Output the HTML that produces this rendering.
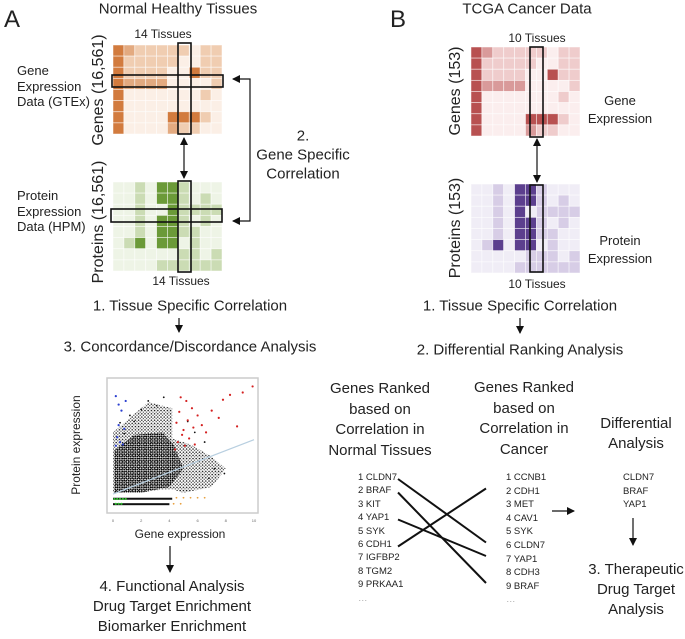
<!DOCTYPE html>
<html><head><meta charset="utf-8">
<style>
body{margin:0;background:#fff;}
#root{position:relative;width:685px;height:639px;overflow:hidden;font-family:"Liberation Sans",sans-serif;color:#222;}
.t{position:absolute;white-space:nowrap;transform:translate(-50%,-50%);line-height:1;}
.l{position:absolute;white-space:nowrap;line-height:1;}
</style></head><body>
<div id="root">
<svg id="svg" width="685" height="639" style="position:absolute;left:0;top:0">
<defs>
<marker id="ah" markerWidth="8" markerHeight="8" refX="7" refY="4" orient="auto-start-reverse" markerUnits="userSpaceOnUse"><path d="M0,0 L8,4 L0,8 z" fill="#111"/></marker>
<pattern id="dotsLight" width="3.2" height="3.2" patternUnits="userSpaceOnUse"><circle cx="1" cy="1" r="0.75" fill="#111"/><circle cx="2.6" cy="2.5" r="0.6" fill="#222"/></pattern>
<pattern id="dotsDense" width="2.2" height="2.2" patternUnits="userSpaceOnUse"><circle cx="1" cy="1" r="0.85" fill="#000"/></pattern>
</defs>
</svg>

<div class="l" style="left:4px;top:8px;font-size:24px">A</div>
<div class="l" style="left:390px;top:8px;font-size:24px">B</div>
<div class="t" style="left:178px;top:9px;font-size:15px">Normal Healthy Tissues</div>
<div class="t" style="left:527px;top:9px;font-size:15px">TCGA Cancer Data</div>

<div class="t" style="left:163px;top:34px;font-size:12px">14 Tissues</div>
<div class="t" style="left:181px;top:281px;font-size:12px">14 Tissues</div>
<div class="t" style="left:537px;top:38px;font-size:12px">10 Tissues</div>
<div class="t" style="left:537px;top:284px;font-size:12px">10 Tissues</div>

<div class="l" style="left:17px;top:63px;font-size:13px;line-height:15.5px;white-space:normal;width:80px">Gene<br>Expression<br>Data (GTEx)</div>
<div class="l" style="left:17px;top:188px;font-size:13px;line-height:15.5px;white-space:normal;width:80px">Protein<br>Expression<br>Data (HPM)</div>
<div class="t" style="left:99px;top:90px;font-size:16px;transform:translate(-50%,-50%) rotate(-90deg)">Genes (16,561)</div>
<div class="t" style="left:99px;top:222px;font-size:16px;transform:translate(-50%,-50%) rotate(-90deg)">Proteins (16,561)</div>
<div class="t" style="left:456px;top:91px;font-size:16px;transform:translate(-50%,-50%) rotate(-90deg)">Genes (153)</div>
<div class="t" style="left:456px;top:228px;font-size:16px;transform:translate(-50%,-50%) rotate(-90deg)">Proteins (153)</div>

<div class="t" style="left:303px;top:155px;font-size:15px;line-height:19px;text-align:center">2.<br>Gene Specific<br>Correlation</div>
<div class="t" style="left:620px;top:110px;font-size:13px;line-height:18px;text-align:center">Gene<br>Expression</div>
<div class="t" style="left:620px;top:250px;font-size:13px;line-height:18px;text-align:center">Protein<br>Expression</div>

<div class="t" style="left:190px;top:306px;font-size:15px">1. Tissue Specific Correlation</div>
<div class="t" style="left:190px;top:347px;font-size:15px">3. Concordance/Discordance Analysis</div>
<div class="t" style="left:520px;top:306px;font-size:15px">1. Tissue Specific Correlation</div>
<div class="t" style="left:520px;top:350px;font-size:15px">2. Differential Ranking Analysis</div>

<div class="t" style="left:380px;top:420px;font-size:15px;line-height:20.5px;text-align:center">Genes Ranked<br>based on<br>Correlation in<br>Normal Tissues</div>
<div class="t" style="left:524px;top:419px;font-size:15px;line-height:20.5px;text-align:center">Genes Ranked<br>based on<br>Correlation in<br>Cancer</div>
<div class="t" style="left:636px;top:434px;font-size:15px;line-height:20px;text-align:center">Differential<br>Analysis</div>

<div class="l" style="left:358px;top:471px;font-size:9.5px;line-height:13.4px">1 CLDN7<br>2 BRAF<br>3 KIT<br>4 YAP1<br>5 SYK<br>6 CDH1<br>7 IGFBP2<br>8 TGM2<br>9 PRKAA1<br><span style="color:#aaa">…</span></div>
<div class="l" style="left:506px;top:471px;font-size:9.5px;line-height:13.6px">1 CCNB1<br>2 CDH1<br>3 MET<br>4 CAV1<br>5 SYK<br>6 CLDN7<br>7 YAP1<br>8 CDH3<br>9 BRAF<br><span style="color:#aaa">…</span></div>
<div class="l" style="left:623px;top:471px;font-size:9.5px;line-height:13.6px">CLDN7<br>BRAF<br>YAP1</div>
<div class="t" style="left:636px;top:590px;font-size:15px;line-height:20px;text-align:center">3. Therapeutic<br>Drug Target<br>Analysis</div>

<div class="t" style="left:76px;top:445px;font-size:12px;transform:translate(-50%,-50%) rotate(-90deg)">Protein expression</div>
<div class="t" style="left:180px;top:534px;font-size:12px">Gene expression</div>
<div class="t" style="left:172px;top:607px;font-size:15px;line-height:20px;text-align:center">4. Functional Analysis<br>Drug Target Enrichment<br>Biomarker Enrichment</div>
</div>
<script>
const NS='http://www.w3.org/2000/svg';
const svg=document.getElementById('svg');
function mk(tag,a){const e=document.createElementNS(NS,tag);for(const k in a)e.setAttribute(k,a[k]);svg.appendChild(e);return e;}

// heatmap intensities (0-3), rows x 10 columns
const geneA=[[3,2,1,1,1,1,1,0,1,1],[3,1,1,1,1,1,0,0,1,1],[3,1,1,1,1,0,0,3,1,1],[3,2,2,2,2,0,0,0,0,1],[3,0,0,0,0,0,0,0,1,0],[3,0,0,0,0,0,0,0,0,0],[3,0,0,0,0,3,3,3,1,0],[3,0,0,0,0,2,1,1,0,0]];
const protA=[[0,0,1,0,3,3,1,0,0,0],[0,0,1,0,3,3,1,0,1,0],[0,0,1,0,0,3,1,1,1,1],[0,0,1,0,3,3,1,0,1,0],[0,0,1,0,3,3,1,1,0,0],[0,1,3,0,3,3,0,1,0,0],[0,0,0,0,0,0,1,1,0,1],[0,0,0,0,1,1,1,1,1,1]];
const geneB=[[3,2,1,1,1,1,1,0,1,1],[3,1,1,1,1,1,0,0,1,1],[3,1,1,1,1,0,0,3,1,1],[3,2,2,2,2,0,0,0,0,1],[3,0,0,0,0,0,0,0,1,0],[3,0,0,0,0,0,0,0,0,0],[3,0,0,0,0,3,3,3,1,0],[3,0,0,0,0,2,1,1,0,0]];
const protB=[[0,0,1,0,3,3,1,0,0,0],[0,0,1,0,3,3,1,0,1,0],[0,0,1,0,3,0,1,1,1,1],[0,0,1,0,3,3,1,0,1,0],[0,0,1,0,3,3,1,1,0,0],[0,1,3,0,3,3,0,1,0,0],[0,0,0,0,0,1,1,1,0,1],[0,0,0,0,1,1,1,1,1,1]];
const palA1=['#fbefe6','#f0cdb1','#e3aa80','#d27b3e'];
const palA2=['#eef4e6','#cbdcb4','#a9c48c','#6b9a38'];
const palB1=['#fbeeee','#efcccc','#d99a9a','#b85151'];
const palB2=['#f0edf6','#d7cde6','#b3a2cf','#5c3f8e'];

function heat(name,data,pal,x0,y0,w,h){
  const rows=data.length,cols=data[0].length,cw=w/cols,ch=h/rows;
  data.forEach((r,i)=>r.forEach((v,j)=>{
    const c=mk('rect',{x:x0+j*cw,y:y0+i*ch,width:cw,height:ch,fill:pal[v],stroke:'#fff','stroke-opacity':0.6,'stroke-width':0.8});
    
    
  }));
}
heat('gene-heatmap-a',geneA,palA1,113,45,109,89);
heat('protein-heatmap-a',protA,palA2,113,182,109,89);
heat('gene-heatmap-b',geneB,palB1,471,47,109,89);
heat('protein-heatmap-b',protB,palB2,471,184,109,89);

function box(name,x,y,w,h){const r=mk('rect',{x,y,width:w,height:h,fill:'none',stroke:'#111','stroke-width':1.6});}
box('row-highlight-gene-a',112,75,111,12);
box('col-highlight-gene-a',178,43,13,91);
box('row-highlight-protein-a',111,209,111,13);
box('col-highlight-protein-a',178,181,13,91);
box('col-highlight-gene-b',530,47,13,90);
box('col-highlight-protein-b',530,185,13,87);

function arrow(name,d,both){const p=mk('path',{d,fill:'none',stroke:'#111','stroke-width':1.2,'marker-end':'url(#ah)'});if(both)p.setAttribute('marker-start','url(#ah)');}
arrow('gene-protein-arrow-a','M184,138 L184,178',true);
arrow('gene-protein-arrow-b','M537,139 L537,182',true);
arrow('gene-specific-bracket','M233,79 L250,79 L250,221 L233,221',true);
arrow('arrow-to-concordance','M179,318 L179,332');
arrow('arrow-to-differential','M520,318 L520,333');
arrow('arrow-to-functional','M170,546 L170,572');
arrow('arrow-to-differential-list','M552,511 L574,511');
arrow('arrow-to-therapeutic','M633,518 L633,545');

// ranking crossing lines (rank in normal -> rank in cancer)
const normalRank=[1,2,4,6];
const cancerRank=[6,9,7,2];
const rankY=r=>477+(r-1)*13.5;
normalRank.forEach((r,i)=>{
  const l=mk('line',{x1:398,y1:rankY(r)+2,x2:486,y2:rankY(cancerRank[i])-2,stroke:'#111','stroke-width':2});
  
  
});

// scatter
const px0=107,py0=378,pw=151,ph=135;
const xs=v=>px0+6+v/10*(pw-10), ys=v=>py0+ph-8-v/10*(ph-14);
const frame=mk('rect',{x:px0,y:py0,width:pw,height:ph,fill:'#fff',stroke:'#ccc','stroke-width':1.5});

const xTicks=[0,2,4,6,8,10];
xTicks.forEach(t=>{const e=mk('text',{x:xs(t),y:py0+ph+9,'font-size':4,'text-anchor':'middle',fill:'#666'});e.textContent=t;});
// cloud outline in data units (gene, protein)
const cloudGX=[0,0,1,2.5,4.2,4.2,5.5,7,8,7,5,4.2];
const cloudPY=[1,6,7,8.5,8,5.5,5,4,3,1.5,1,1.3];
const coreGX=[0.1,0.1,1.5,3.5,4.3,5,4,2];
const corePY=[1,4.5,5.8,6,5,3,1.5,1];
function poly(GX,PY){return GX.map((g,i)=>(i?'L':'M')+xs(g)+','+ys(PY[i])).join(' ')+' Z';}
const cloud=mk('path',{d:poly(cloudGX,cloudPY),fill:'url(#dotsLight)'});

const cloudCore=mk('path',{d:poly(coreGX,corePY),fill:'url(#dotsDense)'});

const blackX=[0.5,1.2,2.5,3.1,5.8,6.5,7.2,2.0,1.5,3.6,6.8,5.3,7.9,0.8];
const blackY=[6.8,7.4,8.6,8.2,6.0,5.2,3.0,7.9,6.9,8.9,2.2,6.9,2.6,5.9];
const redX=[4.8,5.2,5.6,6.0,4.5,5.0,5.4,6.3,7.0,7.8,8.3,9.2,9.9,8.8,4.6,5.8,6.6,7.5,5.1,4.4,4.9,5.3,5.7,4.7];
const redY=[8.9,8.6,8.0,7.4,6.8,6.2,5.5,6.6,7.8,8.7,9.1,9.3,9.8,6.5,5.2,5.0,6.0,7.2,4.9,4.6,5.8,7.0,6.4,7.7];
const blueX=[0.2,0.4,0.6,0.8,0.3,0.5,0.7,0.4,0.9,0.2];
const blueY=[9.0,8.3,7.8,6.3,5.6,5.2,5.0,6.6,8.6,4.9];
const greenX=[0.1,0.3,0.5,0.7,0.9,0.2,0.6,0.4];
const greenY=[0.5,0.5,0.5,0.5,0.5,0.1,0.1,0.1];
const orangeX=[4.5,5.0,5.5,6.0,6.5,4.3,4.8];
const orangeY=[0.6,0.6,0.6,0.6,0.6,0.1,0.1];
function pts(name,X,Y,col,r){X.forEach((x,i)=>{const c=mk('circle',{cx:xs(x),cy:ys(Y[i]),r,fill:col});});}
pts('black-point',blackX,blackY,'#111',0.9);
pts('red-point',redX,redY,'#d42020',1.1);
pts('blue-point',blueX,blueY,'#2a3fd0',1.1);
const band1=mk('rect',{x:xs(0),y:ys(0.6),width:xs(4.2)-xs(0),height:2,fill:'#111'});
const band2=mk('rect',{x:xs(0),y:ys(0.15),width:xs(4)-xs(0),height:2,fill:'#111'});
pts('green-point',greenX,greenY,'#2fc02f',1.1);
pts('orange-point',orangeX,orangeY,'#e8a040',0.9);
const fit=mk('line',{x1:xs(0),y1:ys(0.9),x2:xs(10),y2:ys(5.4),stroke:'#b8cfe0','stroke-width':1.2});

</script>
</body></html>
